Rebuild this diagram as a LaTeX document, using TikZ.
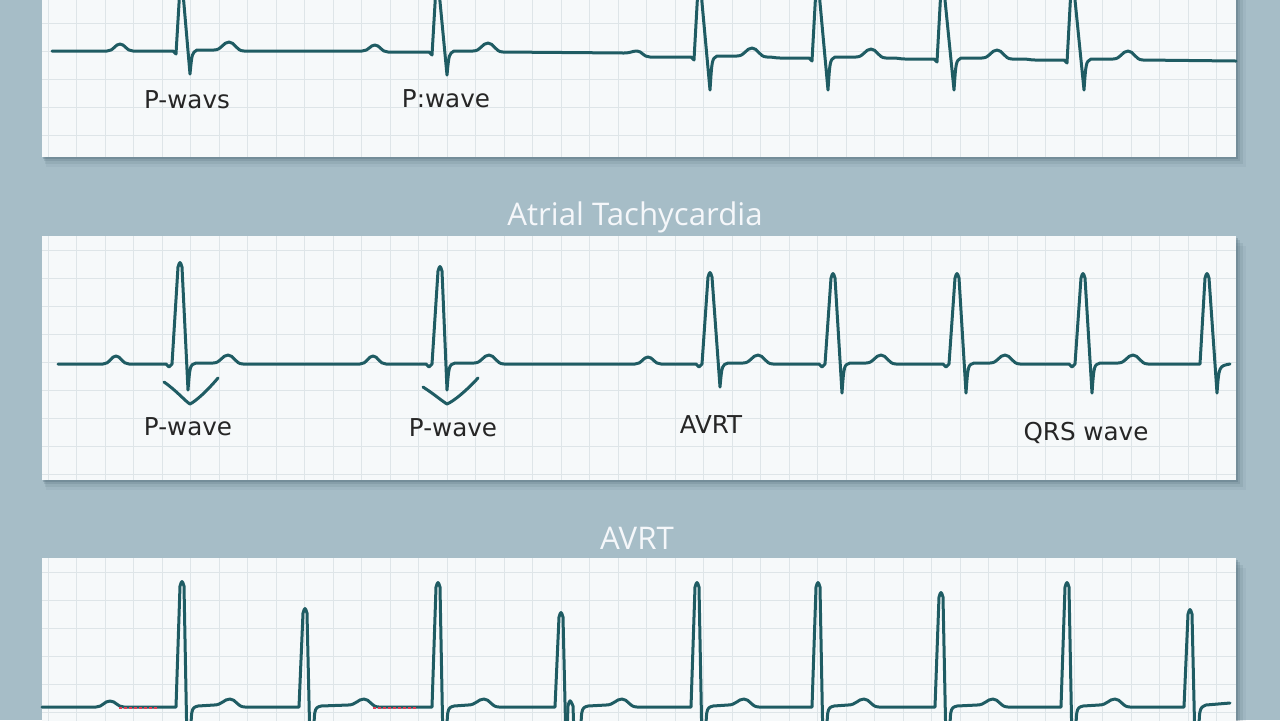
\documentclass[tikz,border=0pt]{standalone}
\usepackage{fontspec}
\setmainfont{DejaVu Sans}
\newfontfamily\ttlfont{Open Sans}
\usepackage{tikz}
\usetikzlibrary{positioning}
\definecolor{bgclr}{rgb}{0.65, 0.74, 0.78}
\definecolor{panelclr}{rgb}{0.965, 0.976, 0.98}
\definecolor{gridclr}{rgb}{0.87, 0.9, 0.91}
\definecolor{traceclr}{rgb}{0.12, 0.36, 0.39}
\definecolor{shadowclr}{rgb}{0.22, 0.33, 0.38}
\definecolor{txtclr}{rgb}{0.15, 0.15, 0.15}
\definecolor{ttlclr}{rgb}{0.96, 0.97, 0.98}
\definecolor{redclr}{rgb}{0.88, 0.25, 0.33}
\tikzset{ %
  ,panel/.style={fill=panelclr}
  ,gridline/.style={draw=gridclr, line width=0.5pt}
  ,trace/.style={draw=traceclr, line width=1.5pt, line join=round, line cap=round}
  ,wavelbl/.style={inner sep=0, anchor=base, text=txtclr, font=\fontsize{12.3}{14}\selectfont}
  ,ttl/.style={inner sep=0, anchor=base, text=ttlclr, font=\ttlfont\fontsize{15.6}{18}\selectfont}
  ,redmark/.style={draw=redclr, line width=0.6pt, dash pattern=on 1.5pt off 1pt}
}

\begin{document}
\begin{tikzpicture}[x=0.5pt, y=-0.5pt]
    \clip (0,0) rectangle (1280,720);
    \fill[bgclr] (0,0) rectangle (1280,720);
    % panels with shadow
    \foreach \top/\bot in {-10/157, 236/480, 558/740} {
      \foreach \o/\op in {2/0.22, 4/0.15, 7/0.1, 10/0.06}
        \fill[shadowclr, opacity=\op] (42+\o*0.4,\top+\o) rectangle (1236+\o,\bot+\o);
      \fill[panel] (42,\top) rectangle (1236,\bot);
      \foreach \x in {48,76.5,...,1230}
        \draw[gridline] (\x,\top) -- (\x,\bot);
    }
    \foreach \y in {23,51,...,150} \draw[gridline] (42,\y) -- (1236,\y);
    \foreach \y in {250,278,...,475} \draw[gridline] (42,\y) -- (1236,\y);
    \foreach \y in {572,600,...,730} \draw[gridline] (42,\y) -- (1236,\y);

    % first strip
    \draw[trace] (52,51) foreach \px/\ph/\al/\rx/\sx/\sy/\tx/\bl in {
        120/7/51/182/190/74/229/51, 375/7/51/438/447/75/488/52,
        637/6/53/700/710/90/752/57, 780/0/57/818/828/90/871/58,
        905/0/58/943/954/90/997/59, 1035/0/59/1073/1084/90/1128/60} {
      -- (\px-13,\al) .. controls (\px-6,\al) and (\px-5,\bl-\ph) .. (\px,\bl-\ph)
      .. controls (\px+5,\bl-\ph) and (\px+6,\bl) .. (\px+13,\bl)
      -- (\rx-9,\bl) -- (\rx-6,\bl+3) -- (\rx-1,-30) -- (\sx,\sy)
      .. controls (\sx+2,\bl+2) .. (\sx+7,\bl-1)
      -- (\tx-15,\bl-1) .. controls (\tx-7,\bl-1) and (\tx-6,\bl-9) .. (\tx,\bl-9)
      .. controls (\tx+6,\bl-9) and (\tx+7,\bl) .. (\tx+15,\bl)
    } -- (1236,61);
    \node[wavelbl] (pw1) at (187,108) {P-wavs};
    \node[wavelbl] (pw2) at (446,107) {P:wave};

    % second strip
    \node[ttl] (ttl1) at (635,225) {Atrial Tachycardia};
    \draw[trace] (58,364) foreach \px/\ph/\rx/\ry/\sx/\sy/\tx in {
        116/8/180/263/188/390/228, 373/8/440/267/447/390/489,
        648/7/710/273/720/387/758, 800/0/833/274/842/393/881,
        925/0/957/274/966/393/1005, 1050/0/1083/274/1092/393/1133} {
      -- (\px-13,364) .. controls (\px-6,364) and (\px-5,364-\ph) .. (\px,364-\ph)
      .. controls (\px+5,364-\ph) and (\px+6,364) .. (\px+13,364)
      -- (\rx-14,364) -- (\rx-11,367) -- (\rx-8,364) -- (\rx-2,\ry+4)
      .. controls (\rx,\ry-2) .. (\rx+2,\ry+4) -- (\sx,\sy)
      .. controls (\sx+2,365) .. (\sx+8,363)
      -- (\tx-15,363) .. controls (\tx-7,363) and (\tx-6,355) .. (\tx,355)
      .. controls (\tx+6,355) and (\tx+7,364) .. (\tx+15,364)
    } -- (1200,364) -- (1205,278) .. controls (1207,272) .. (1209,278)
      -- (1217,393) .. controls (1219,366) .. (1230,364);
    \draw[trace] (164,382) .. controls (177,391) and (185,401) .. (190,404)
      .. controls (196,401) and (207,391) .. (218,378);
    \draw[trace] (423,387) .. controls (434,394) and (442,401) .. (447,404)
      .. controls (454,401) and (466,391) .. (478,378);
    \node[wavelbl] (pw3) at (188,435) {P-wave};
    \node[wavelbl] (pw4) at (453,436) {P-wave};
    \node[wavelbl] (avrt) at (711,433) {AVRT};
    \node[wavelbl] (qrs) at (1086,440) {QRS wave};

    % third strip
    \node[ttl] (ttl2) at (637,549) {AVRT};
    \draw[trace] (42,707) -- (96,707) .. controls (103,707) and (104,701) .. (110,701)
      .. controls (116,701) and (117,707) .. (124,707)
      foreach \rx/\ry/\rt/\px in {182/582/9/230, 305/609/9/364, 438/583/9/484,
        561/613/20/622, 697/583/9/744, 818/583/9/864, 941/593/9/993, 1067/583/9/1115} {
      -- (\rx-6,707) -- (\rx-2,\ry+4) .. controls (\rx,\ry-2) .. (\rx+2,\ry+4)
      -- (\rx+5,745) -- (\rx+\rt,745) .. controls (\rx+\rt,708) .. (\rx+\rt+7,706)
      -- (\px-16,705) .. controls (\px-8,705) and (\px-6,699) .. (\px,699)
      .. controls (\px+6,699) and (\px+7,707) .. (\px+15,707)
    } -- (1184,707) -- (1188,614) .. controls (1190,608) .. (1192,614)
      -- (1195,745) -- (1199,745) .. controls (1199,708) .. (1206,705) -- (1230,703);
    \draw[trace] (567,735) -- (568,706) .. controls (570,699) .. (573,706) -- (574,735);
    \draw[redmark] (119,708) -- (159,708);
    \draw[redmark] (373,708) -- (417,708);
  \end{tikzpicture}
\end{document}
